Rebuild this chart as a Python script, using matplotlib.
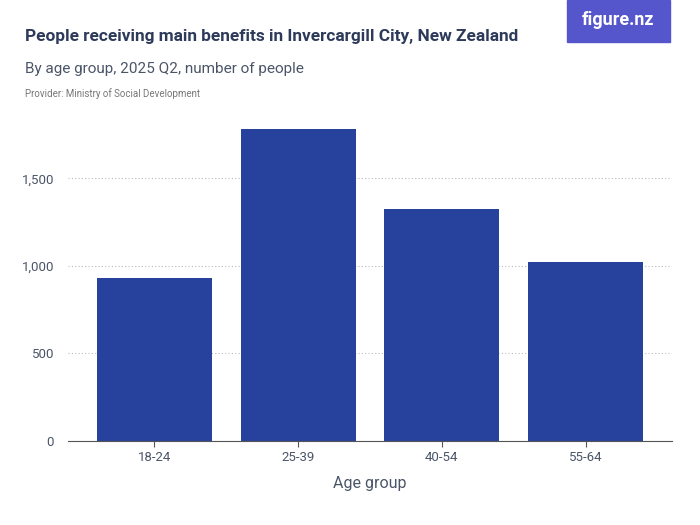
import matplotlib
matplotlib.use("Agg")
import matplotlib.pyplot as plt
from matplotlib.patches import Rectangle

plt.rcParams['font.family'] = ['Roboto', 'DejaVu Sans']

categories = ["18-24", "25-39", "40-54", "55-64"]
values = [930, 1780, 1325, 1022]
yticks = [0, 500, 1000, 1500]

fig = plt.figure(figsize=(7, 5.25), dpi=100)
ax = fig.add_axes([0.097, 0.16, 0.863, 0.617])
ax.bar(range(len(categories)), values, width=0.8, color="#27429c", zorder=2)
ax.set_xlim(-0.6, 3.6)
ax.set_ylim(0, 1850)
ax.set_yticks(yticks)
ax.set_yticklabels([f"{v:,}" for v in yticks])
ax.set_xticks(range(len(categories)))
ax.set_xticklabels(categories)
for s in ax.spines.values():
    s.set_visible(False)
ax.spines["bottom"].set_visible(True)
ax.spines["bottom"].set_color("#555555")
ax.yaxis.grid(True, linestyle=(0, (1, 2)), color="#bbbbbb", zorder=0)
ax.tick_params(axis="y", length=0, pad=10, labelsize=9.5, labelcolor="#4a5568")
ax.tick_params(axis="x", length=4, color="#555555", labelsize=9.5, labelcolor="#4a5568")
ax.set_xlabel("Age group", fontsize=11.5, color="#4a5568", labelpad=8)

fig.text(0.036, 0.93, "People receiving main benefits in Invercargill City, New Zealand",
         fontsize=12.4, color="#2d3a5a", fontweight="bold", va="center")
fig.text(0.036, 0.868, "By age group, 2025 Q2, number of people", fontsize=11,
         color="#4a5568", va="center")
fig.text(0.036, 0.822, "Provider: Ministry of Social Development", fontsize=7,
         color="#777777", va="center")
fig.patches.append(Rectangle((567/700, 1-42/525), 103/700, 42/525,
                             transform=fig.transFigure, color="#5555cc", zorder=5))
fig.text(618/700, 1-20/525, "figure.nz", fontsize=13, color="white",
         fontweight="bold", ha="center", va="center", zorder=6)
fig.savefig("out.png", dpi=100)
